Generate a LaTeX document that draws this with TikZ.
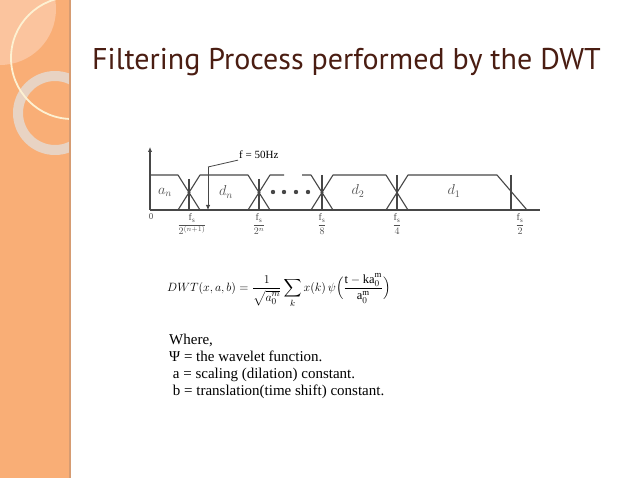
\documentclass[tikz,border=0pt]{standalone}
\usepackage{amsmath,amssymb}
\usepackage{fontspec}
\setmainfont{Liberation Serif}
\newfontfamily\titlefont{PT Sans}
\usetikzlibrary{arrows.meta}

\begin{document}
\begin{tikzpicture}[x=1pt,y=-1pt]
\definecolor{slidePanel}{HTML}{F9AE76}
\definecolor{slideGlow}{HTML}{FBC49E}
\definecolor{slideArc}{HTML}{FDF1D2}
\definecolor{slideRing}{HTML}{E8D3C3}
\definecolor{slideEdge}{HTML}{D69C72}
\definecolor{slideTitle}{HTML}{4A1D12}
\definecolor{filterLine}{HTML}{474747}
\definecolor{filterText}{HTML}{505050}
\tikzset{
  filterEdge/.style={filterLine,line width=1.1pt,line join=round},
  filterFrac/.style={text=filterText,inner sep=0pt,font=\fontsize{10}{11}\selectfont},
  filterBand/.style={text=filterText,inner sep=0pt,font=\fontsize{14}{16}\selectfont},
}
\useasboundingbox (0,0) rectangle (638,478);
\fill[white] (0,0) rectangle (638,478);
\begin{scope}
\clip (0,0) rectangle (70,478);
\fill[slidePanel] (0,0) rectangle (70,478);
\fill[slideGlow] (0,9) circle (56pt);
\draw[slideRing,line width=10pt] (55,113) circle (37pt);
\draw[slideArc,line width=1.8pt] (72,58) circle (61pt);
\end{scope}
\draw[slideEdge,line width=1.2pt] (70,0) -- (70,478);
\node[anchor=base west,inner sep=0pt,text=slideTitle,font=\titlefont\fontsize{30}{36}\selectfont] (title) at (92,70) {Filtering Process performed by the DWT};
\draw[filterEdge,-{Latex[length=5pt,width=4.5pt]}] (150,210) -- (150,147);
\draw[filterEdge] (150,210) -- (540,210);
\draw[filterEdge] (150,175) -- (178,175) -- (200,210);
\draw[filterEdge] (178,210) -- (200,175) -- (248,175) -- (270,210);
\draw[filterEdge] (248,210) -- (270,175) -- (284,175);
\draw[filterEdge] (302,175) -- (311,175) -- (333,210);
\draw[filterEdge] (311,210) -- (333,175) -- (386,175) -- (408,210);
\draw[filterEdge] (386,210) -- (408,175) -- (497,175) -- (527,210);
\foreach \x/\top in {189/179,259/179,322/175,397/175,511/175} {
  \draw[filterEdge] (\x,\top) -- (\x,210);
}
\foreach \x in {189,259,322} {
  \fill[filterLine] (\x,192.5) circle (1.6pt);
}
\foreach \x in {273,284,296,308} {
  \fill[filterLine] (\x,192) circle (2.2pt);
}
\node[anchor=north,inner sep=0pt,text=filterText,font=\fontsize{9}{10}\selectfont] (origin) at (151,213) {0};
\foreach \x/\den [count=\i] in {192/{2^{(n+1)}},259/{2^n},322/8,397/4,520/2} {
  \node[filterFrac] (freq\i) at (\x,224) {$\dfrac{\mathrm{f}_{\mathrm{s}}}{\den}$};
}
\node[filterBand] (bandAn) at (165,192) {$a_n$};
\node[filterBand] (bandDn) at (226,192) {$d_n$};
\node[filterBand] (bandDtwo) at (358,191) {$d_2$};
\node[filterBand] (bandDone) at (454,191) {$d_1$};
\node[anchor=west,inner sep=1pt,font=\fontsize{11}{12}\selectfont] (cutLabel) at (238,155) {f = 50Hz};
\coordinate (cutBend) at (208,167);
\coordinate (cutFoot) at (208,210);
\draw[filterEdge,line width=0.8pt] (cutLabel.south west) -- (cutBend);
\draw[filterEdge,line width=0.8pt,-{Latex[length=5pt,width=4.5pt]}] (cutBend) -- (cutFoot);
\node[anchor=west,inner sep=0pt,font=\fontsize{12.5}{15}\selectfont] (dwtFormula) at (167,291)
  {$\displaystyle DWT(x,a,b)=\frac{1}{\sqrt{a_0^m}}\sum_k x(k)\,\psi\Bigl(\frac{\mathrm{t}-\mathrm{ka}_0^{\mathrm{m}}}{\mathrm{a}_0^{\mathrm{m}}}\Bigr)$};
\node[anchor=north west,align=left,inner sep=0pt,font=\fontsize{15}{16.8}\selectfont] (whereText) at (169,334)
  {Where,\\ Ψ = the wavelet function.\\ \ a = scaling (dilation) constant.\\ \ b = translation(time shift) constant.};
\end{tikzpicture}
\end{document}
